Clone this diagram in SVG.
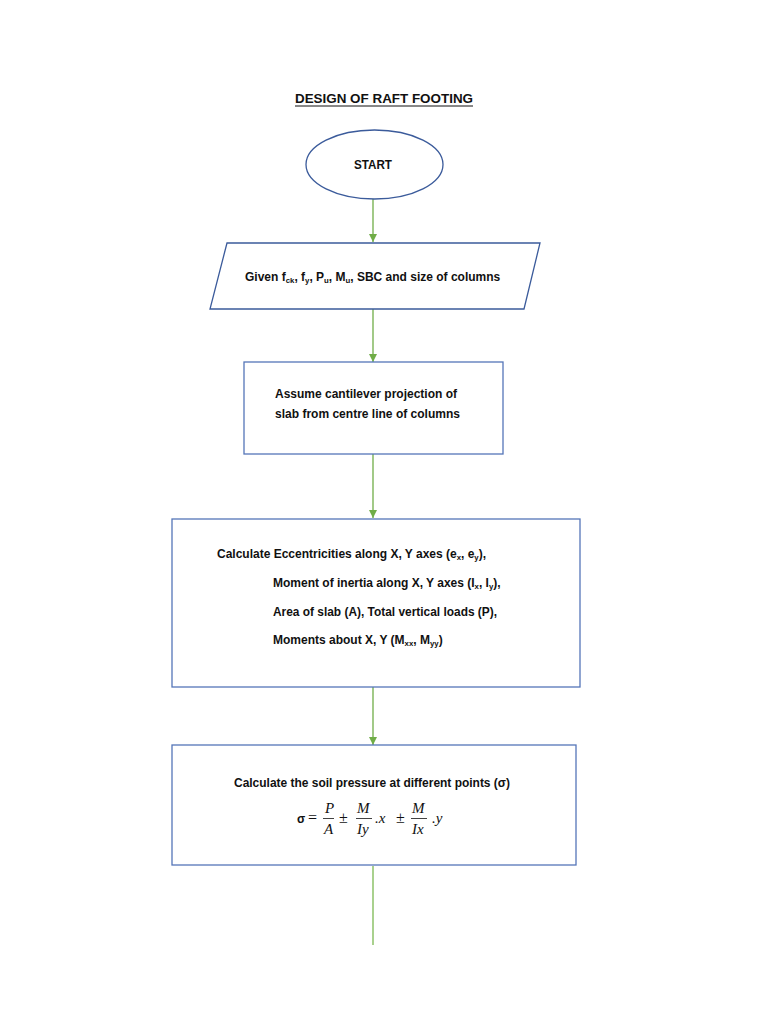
<svg xmlns="http://www.w3.org/2000/svg" width="768" height="1024" viewBox="0 0 768 1024">
<defs>
<style>
.t{font-family:"Liberation Sans",Arial,sans-serif;font-weight:bold;font-size:12px;fill:#111}
.sub{font-size:7.8px}
.node{fill:#fff;stroke-width:1.3}
.nd{stroke:#3B5B9B}
.nb{stroke:#5576B8}
.conn{stroke:#70AD47;stroke-width:1.3;fill:none}
.m{font-family:"Liberation Serif","Times New Roman",serif;font-style:italic;font-size:15px;fill:#111}
.r{font-family:"Liberation Serif","Times New Roman",serif;font-size:16px;fill:#111}
</style>
<marker id="ah" markerUnits="userSpaceOnUse" markerWidth="8" markerHeight="8" refX="8" refY="4" orient="auto">
<path d="M0,0 L8,4 L0,8 z" fill="#70AD47"/>
</marker>
</defs>
<rect width="768" height="1024" fill="#fff"/>

<g id="title">
<text class="t" x="295" y="103" font-size="13.5" textLength="178" lengthAdjust="spacingAndGlyphs">DESIGN OF RAFT FOOTING</text>
<line x1="295" y1="106" x2="473" y2="106" stroke="#111" stroke-width="1"/>
</g>

<g id="connectors">
<line class="conn" x1="373" y1="199" x2="373" y2="242" marker-end="url(#ah)"/>
<line class="conn" x1="373" y1="309" x2="373" y2="362" marker-end="url(#ah)"/>
<line class="conn" x1="373" y1="454" x2="373" y2="518" marker-end="url(#ah)"/>
<line class="conn" x1="373" y1="687" x2="373" y2="745" marker-end="url(#ah)"/>
<line x1="373" y1="866" x2="373" y2="945" stroke="#A9D18E" stroke-width="2"/>
</g>

<g id="start">
<ellipse class="node nd" cx="374.5" cy="164.5" rx="68.5" ry="34.5"/>
<text class="t" x="354" y="169" textLength="38" lengthAdjust="spacingAndGlyphs">START</text>
</g>

<g id="input">
<polygon class="node nd" points="227,243 540,243 524,309 210,309"/>
<text class="t" x="245" y="281" font-size="11.5">Given f<tspan class="sub" dy="2">ck</tspan><tspan dy="-2">, f</tspan><tspan class="sub" dy="2">y</tspan><tspan dy="-2">, P</tspan><tspan class="sub" dy="2">u</tspan><tspan dy="-2">, M</tspan><tspan class="sub" dy="2">u</tspan><tspan dy="-2">, SBC and size of columns</tspan></text>
</g>

<g id="assume">
<rect class="node nb" x="244" y="362" width="259" height="92"/>
<text class="t" x="275" y="398" textLength="182" lengthAdjust="spacingAndGlyphs">Assume cantilever projection of</text>
<text class="t" x="275" y="418" textLength="185" lengthAdjust="spacingAndGlyphs">slab from centre line of columns</text>
</g>

<g id="calc">
<rect class="node nb" x="172" y="519" width="408" height="168"/>
<text class="t" x="217" y="558" font-size="11.4">Calculate Eccentricities along X, Y axes (e<tspan class="sub" dy="2">x</tspan><tspan dy="-2">, e</tspan><tspan class="sub" dy="2">y</tspan><tspan dy="-2">),</tspan></text>
<text class="t" x="273" y="587" font-size="11.9">Moment of inertia along X, Y axes (I<tspan class="sub" dy="2">x</tspan><tspan dy="-2">, I</tspan><tspan class="sub" dy="2">y</tspan><tspan dy="-2">),</tspan></text>
<text class="t" x="273" y="616" textLength="224" lengthAdjust="spacingAndGlyphs">Area of slab (A), Total vertical loads (P),</text>
<text class="t" x="273" y="644" font-size="12.4">Moments about X, Y (M<tspan class="sub" dy="2">xx</tspan><tspan dy="-2">, M</tspan><tspan class="sub" dy="2">yy</tspan><tspan dy="-2">)</tspan></text>
</g>

<g id="pressure">
<rect class="node nb" x="172" y="745" width="404" height="120"/>
<text class="t" x="234" y="787" textLength="276" lengthAdjust="spacingAndGlyphs">Calculate the soil pressure at different points (σ)</text>
<text class="t" x="297" y="823" font-size="14">σ</text>
<text class="r" x="308" y="823">=</text>
<text class="m" x="325" y="813">P</text>
<line x1="323" y1="818.5" x2="334" y2="818.5" stroke="#111" stroke-width="0.8"/>
<text class="m" x="324" y="834">A</text>
<text class="r" x="339" y="823">±</text>
<text class="m" x="357" y="813">M</text>
<line x1="356" y1="818.5" x2="372" y2="818.5" stroke="#111" stroke-width="0.8"/>
<text class="m" x="357" y="834">Iy</text>
<text class="m" x="375" y="823">.x</text>
<text class="r" x="396" y="823">±</text>
<text class="m" x="412" y="813">M</text>
<line x1="411" y1="818.5" x2="427" y2="818.5" stroke="#111" stroke-width="0.8"/>
<text class="m" x="412" y="834">Ix</text>
<text class="m" x="432" y="823">.y</text>
</g>
</svg>
